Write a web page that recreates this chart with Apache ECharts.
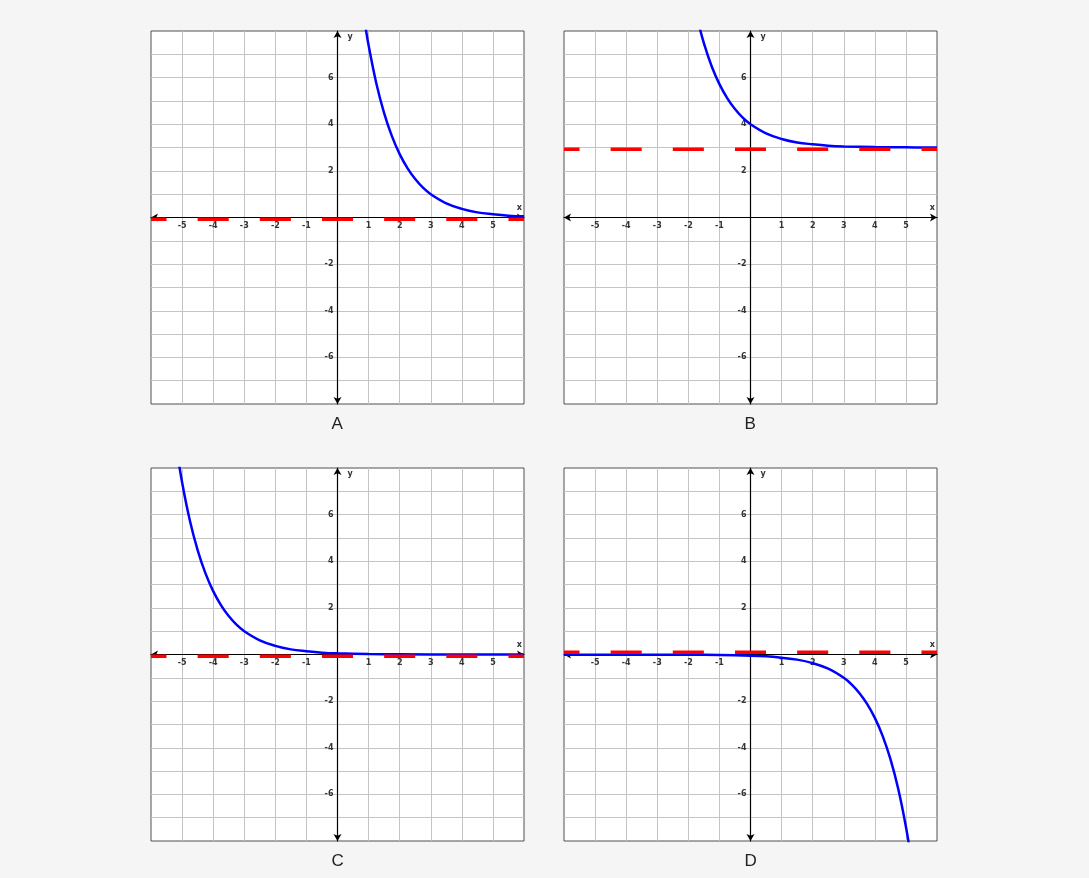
<!DOCTYPE html>
<html>
<head>
<meta charset="utf-8">
<script src="https://cdn.jsdelivr.net/npm/echarts@6/dist/echarts.min.js"></script>
<style>
  html, body { margin: 0; padding: 0; background: #f5f5f5; }
  #main { width: 1089px; height: 878px; }
</style>
</head>
<body>
<div id="main"></div>
<script>
// tick labels shown on the axes
var xTicks = [-5, -4, -3, -2, -1, 1, 2, 3, 4, 5];
var yTicks = [-6, -4, -2, 2, 4, 6];
var panelNames = ['A', 'B', 'C', 'D'];

// curves
var aX = [0.9, 1, 1.25, 1.5, 1.75, 2, 2.25, 2.5, 2.75, 3, 3.5, 4, 4.5, 5, 5.5, 6];
var aY = [8.17, 7.39, 5.75, 4.48, 3.49, 2.72, 2.12, 1.65, 1.28, 1.0, 0.61, 0.37, 0.22, 0.14, 0.08, 0.05];

var bX = [-1.7, -1.5, -1.25, -1, -0.75, -0.5, -0.25, 0, 0.5, 1, 1.5, 2, 2.5, 3, 4, 5, 6];
var bY = [8.47, 7.48, 6.49, 5.72, 5.12, 4.65, 4.28, 4.0, 3.61, 3.37, 3.22, 3.14, 3.08, 3.05, 3.02, 3.01, 3.0];

var cX = [-5.2, -5, -4.75, -4.5, -4.25, -4, -3.75, -3.5, -3.25, -3, -2.5, -2, -1.5, -1, -0.5, 0, 1, 2, 4, 6];
var cY = [9.03, 7.39, 5.75, 4.48, 3.49, 2.72, 2.12, 1.65, 1.28, 1.0, 0.61, 0.37, 0.22, 0.14, 0.08, 0.05, 0.02, 0.01, 0.0, 0.0];

var dX = [-6, -4, -2, -1, 0, 0.5, 1, 1.5, 2, 2.5, 3, 3.25, 3.5, 3.75, 4, 4.25, 4.5, 4.75, 5, 5.2];
var dY = [-0.01, -0.01, -0.01, -0.02, -0.05, -0.08, -0.14, -0.22, -0.37, -0.61, -1.0, -1.28, -1.65, -2.12, -2.72, -3.49, -4.48, -5.75, -7.39, -9.03];

// red dashed asymptotes
var asymptotes = [-0.07, 2.93, -0.07, 0.1];

var curvesX = [aX, bX, cX, dX];
var curvesY = [aY, bY, cY, dY];

var ec = echarts.init(document.getElementById('main'));

var gridW = 373, gridH = 373;
var lefts = [151, 564, 151, 564];
var tops = [31, 31, 468, 468];
var unit = gridW / 12;

var grids = [], xAxes = [], yAxes = [], series = [], texts = [];
var tickFont = { fontSize: 8, fontWeight: 'bold', color: '#333', fontFamily: 'DejaVu Sans' };

for (var i = 0; i < 4; i++) {
    grids.push({
        left: lefts[i], top: tops[i], width: gridW, height: gridH,
        show: true, backgroundColor: '#fff', borderColor: '#505050', borderWidth: 1
    });
    // axes sit in the middle of the panel (x and y ranges are symmetric)
    xAxes.push({
        gridIndex: i, type: 'value', min: -6, max: 6, interval: 1,
        position: 'bottom', offset: -gridH / 2,
        axisLine: { onZero: false, symbol: ['arrow', 'arrow'], symbolSize: [6, 7], lineStyle: { color: '#000', width: 1.2 } },
        axisTick: { show: false },
        splitLine: { showMinLine: false, showMaxLine: false, lineStyle: { color: '#c4c4c4', width: 1 } },
        axisLabel: Object.assign({
            margin: 4,
            formatter: function (v) { return xTicks.indexOf(v) >= 0 ? String(v) : ''; }
        }, tickFont),
        name: 'x', nameLocation: 'end', nameGap: 0,
        nameTextStyle: Object.assign({ align: 'right', verticalAlign: 'bottom', padding: [0, 2, 6, 0] }, tickFont)
    });
    yAxes.push({
        gridIndex: i, type: 'value', min: -8, max: 8, interval: 1,
        position: 'left', offset: -gridW / 2,
        axisLine: { onZero: false, symbol: ['arrow', 'arrow'], symbolSize: [6, 7], lineStyle: { color: '#000', width: 1.2 } },
        axisTick: { show: false },
        splitLine: { showMinLine: false, showMaxLine: false, lineStyle: { color: '#c4c4c4', width: 1 } },
        axisLabel: Object.assign({
            margin: 4,
            formatter: function (v) { return yTicks.indexOf(v) >= 0 ? String(v) : ''; }
        }, tickFont),
        name: 'y', nameLocation: 'end', nameGap: 0,
        nameTextStyle: Object.assign({ align: 'left', verticalAlign: 'top', padding: [2, 0, 0, 10] }, tickFont)
    });

    var pts = curvesX[i].map(function (x, k) { return [x, curvesY[i][k]]; });
    series.push({
        type: 'line', xAxisIndex: i, yAxisIndex: i, data: pts,
        smooth: 0.4, showSymbol: false, silent: true,
        lineStyle: { color: '#0000ff', width: 2.5 }, z: 3
    });
    series.push({
        type: 'line', xAxisIndex: i, yAxisIndex: i,
        data: [[-6, asymptotes[i]], [6, asymptotes[i]]],
        showSymbol: false, silent: true,
        lineStyle: { color: '#ff0000', width: 3.5, type: [unit, unit], dashOffset: unit / 2 }, z: 4
    });

    texts.push({
        type: 'text', left: lefts[i] + gridW / 2 - 6, top: tops[i] + gridH + 12,
        style: { text: panelNames[i], fontSize: 17, fill: '#222', fontFamily: 'Liberation Sans' }
    });
}

var option = {
    animation: false,
    backgroundColor: '#f5f5f5',
    grid: grids,
    xAxis: xAxes,
    yAxis: yAxes,
    series: series,
    graphic: texts
};
ec.setOption(option);
</script>
</body>
</html>
